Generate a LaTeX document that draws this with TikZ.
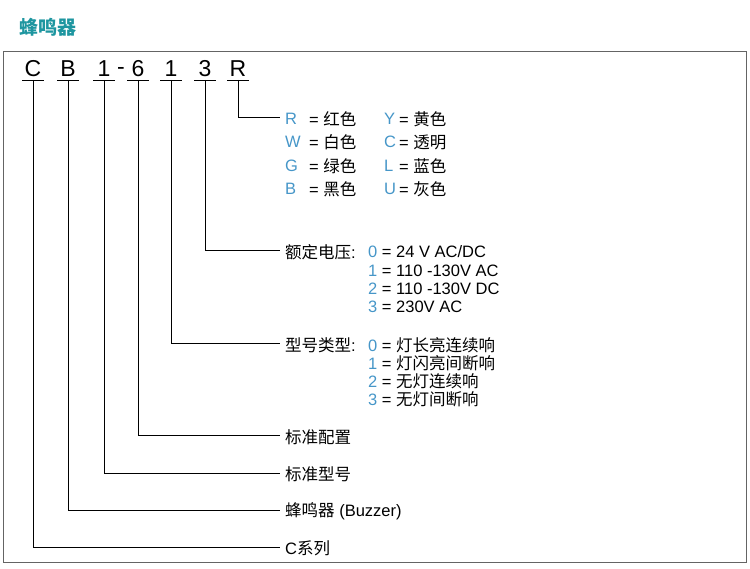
\documentclass[tikz,border=0pt]{standalone}
\usepackage{fontspec}
\setmainfont{Liberation Sans}
\newfontfamily\cjk{Noto Sans CJK SC}
\newfontfamily\cjkb{Noto Sans CJK SC Bold}
\definecolor{teal1}{RGB}{30,150,160}
\definecolor{blu}{RGB}{70,150,200}
\definecolor{frm}{RGB}{100,100,100}
\begin{document}
\begin{tikzpicture}[x=1pt,y=-1pt,
  code/.style={font=\fontsize{23}{23}\selectfont,inner sep=0pt},
  lbl/.style={anchor=west,font=\fontsize{16.5}{16.5}\selectfont,inner sep=0pt},
  ln/.style={line width=0.8pt}]
\useasboundingbox (0,0) rectangle (750,569);
\node[anchor=west,text=teal1,font=\fontsize{19}{19}\selectfont\cjk,inner sep=0pt] (title) at (19,27) {\textbf{蜂鸣器}};
\draw[frm,line width=1pt] (3,52) rectangle (746,562);
\foreach \n/\t/\x in {c/C/33,b/B/68,o/1/104,s/6/138,t/1/171,v/3/205,r/R/238}{
  \node[code] (\n) at (\x,69) {\t};
  \draw[ln] (\x-11,80) -- (\x+11,80);
}
\node[code] (dash) at (121,71) {-};
\coordinate (rr) at (280,117); \coordinate (vv) at (280,250); \coordinate (tt) at (280,343);
\coordinate (ss) at (280,435); \coordinate (oo) at (280,473); \coordinate (bb) at (280,510); \coordinate (cc) at (280,547);
\draw[ln] (238,80) |- (rr);
\draw[ln] (205,80) |- (vv);
\draw[ln] (171,80) |- (tt);
\draw[ln] (138,80) |- (ss);
\draw[ln] (104,80) |- (oo);
\draw[ln] (68,80) |- (bb);
\draw[ln] (33,80) |- (cc);
% colours
\foreach \y/\a/\ca/\b/\cb in {119/R/红色/Y/黄色,142/W/白色/C/透明,166/G/绿色/L/蓝色,189/B/黑色/U/灰色}{
  \node[lbl] at (285,\y) {\textcolor{blu}{\a}};
  \node[lbl] at (309,\y) {= {\cjk\ca}};
  \node[lbl] at (384,\y) {\textcolor{blu}{\b}};
  \node[lbl] at (399,\y) {= {\cjk\cb}};
}
\node[lbl] (volt) at (285,252) {{\cjk 额定电压}:};
\node[lbl] at (368,252) {\textcolor{blu}{0} = 24 V AC/DC};
\node[lbl] at (368,271) {\textcolor{blu}{1} = 110 -130V AC};
\node[lbl] at (368,289) {\textcolor{blu}{2} = 110 -130V DC};
\node[lbl] at (368,307) {\textcolor{blu}{3} = 230V AC};
\node[lbl] (type) at (285,345) {{\cjk 型号类型}:};
\foreach \y/\d/\t in {345/0/灯长亮连续响,363/1/灯闪亮间断响,381/2/无灯连续响,399/3/无灯间断响}{
  \node[lbl] at (368,\y) {\textcolor{blu}{\d} = {\cjk\t}};
}
\node[lbl] (std) at (285,437) {\cjk 标准配置};
\node[lbl] (stm) at (285,474) {\cjk 标准型号};
\node[lbl] (buz) at (285,511) {{\cjk 蜂鸣器} (Buzzer)};
\node[lbl] (ser) at (285,548) {C{\cjk 系列}};
\end{tikzpicture}
\end{document}
